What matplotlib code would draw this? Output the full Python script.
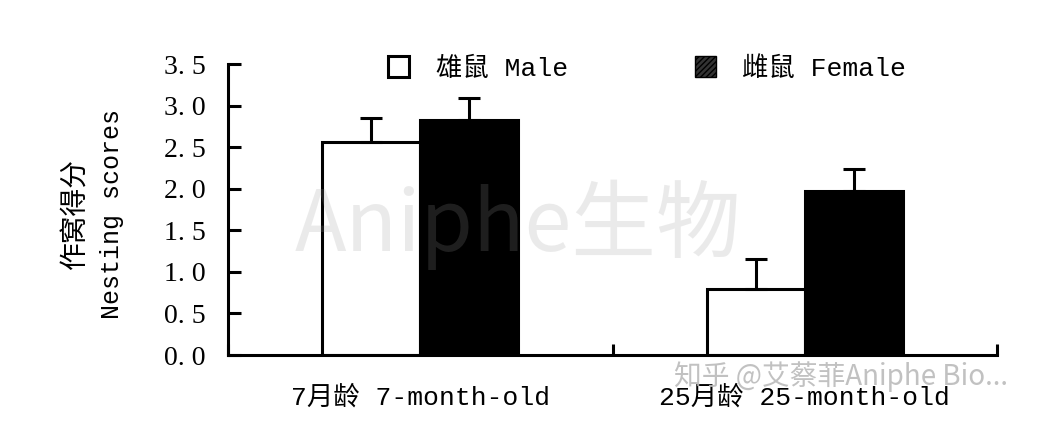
import matplotlib.pyplot as plt
import numpy as np
from matplotlib.patches import Patch

plt.rcParams['font.family'] = ['Liberation Mono', 'Noto Sans CJK SC']

groups = ['7月龄 7-month-old', '25月龄 25-month-old']
male = [2.56, 0.79]
male_err = [0.29, 0.37]
female = [2.83, 1.97]
female_err = [0.26, 0.27]
yticks = [0.0, 0.5, 1.0, 1.5, 2.0, 2.5, 3.0, 3.5]
ytick_labels = ['0. 0', '0. 5', '1. 0', '1. 5', '2. 0', '2. 5', '3. 0', '3. 5']

fig = plt.figure(figsize=(10.37, 4.25), dpi=100)
ax = fig.add_axes([0.2199, 0.1647, 0.9614 - 0.2199, 0.8494 - 0.1647])

x = np.array([0.5, 1.5])
w = 0.255
ax.bar(x - w / 2, male, w, color='white', edgecolor='black', linewidth=2.2,
       yerr=[[0, 0], male_err], error_kw=dict(ecolor='black', elinewidth=2.2, capsize=8, capthick=2.2),
       zorder=2)
ax.bar(x + w / 2, female, w, color='black', edgecolor='black', linewidth=2.2,
       yerr=[[0, 0], female_err], error_kw=dict(ecolor='black', elinewidth=2.2, capsize=8, capthick=2.2),
       zorder=2)

ax.set_xlim(0, 2)
ax.set_ylim(0, 3.5)
for s in ['top', 'right']:
    ax.spines[s].set_visible(False)
for s in ['left', 'bottom']:
    ax.spines[s].set_linewidth(2.2)

ax.set_yticks(yticks)
ax.set_yticklabels(ytick_labels, fontsize=20, family=['Liberation Serif'])
ax.tick_params(axis='y', direction='in', length=9, width=2.2, pad=16)
ax.set_xticks([0, 1, 2])
ax.set_xticklabels(['', '', ''])
ax.tick_params(axis='x', direction='in', length=8, width=2.2)
ax.set_xticks(x, minor=True)
ax.set_xticklabels(groups, minor=True, fontsize=19)
ax.tick_params(axis='x', which='minor', length=0, pad=22)

fig.text(0.072, 0.497, '作窝得分', rotation=90, ha='center', va='center', fontsize=20,
         family=['Noto Sans CJK SC'])
fig.text(0.108, 0.497, 'Nesting scores', rotation=90, ha='center', va='center', fontsize=18)

handles = [Patch(facecolor='white', edgecolor='black', linewidth=2.2),
           Patch(facecolor='#333333', edgecolor='black', hatch='//////', linewidth=1)]
ax.legend(handles, ['雄鼠 Male', '雌鼠 Female'], ncol=2, frameon=False, fontsize=19,
          loc='center', bbox_to_anchor=(0.545, 0.985), columnspacing=4.8,
          handlelength=0.8, handleheight=0.8, handletextpad=1.0)

# watermarks
fig.text(0.50, 0.47, 'Aniphe生物', fontsize=61, color='#9a9a9a', alpha=0.2,
         ha='center', va='center', family=['Noto Sans CJK SC'], zorder=5)
fig.text(0.811, 0.115, '知乎 @艾蔡菲Aniphe Bio...', fontsize=20, color='#bbbbbb', alpha=0.9,
         ha='center', va='center', family=['Noto Sans CJK SC'], zorder=5)

fig.savefig('out.png', dpi=100)
